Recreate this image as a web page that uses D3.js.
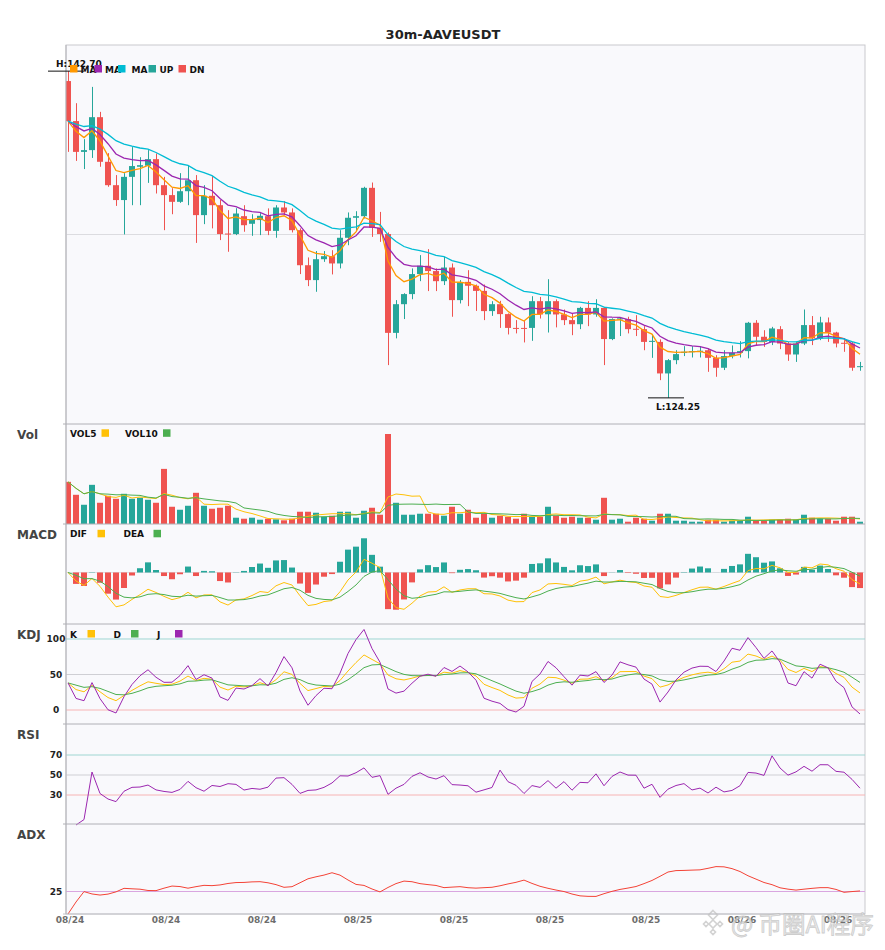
<!DOCTYPE html>
<html>
<head>
<meta charset="utf-8">
<script src="https://cdn.jsdelivr.net/npm/d3@7"></script>
<style>
  body { margin: 0; background: #fff; }
  svg { display: block; font-family: "DejaVu Sans", sans-serif; }
</style>
</head>
<body>
<div id="chart"></div>
<script>
// 30m AAVEUSDT candles
const opens = [
  142.14, 139.88, 138.14, 138.24, 140.10, 137.58, 136.26, 135.42, 136.73, 137.30,
  137.36, 137.73, 136.26, 135.70, 135.32, 135.92, 136.54, 134.57, 135.66, 135.13,
  133.53, 133.50, 134.51, 134.08, 134.29, 134.51, 133.68, 135.00, 134.72, 133.72,
  131.74, 130.90, 132.08, 132.25, 131.84, 133.29, 134.42, 134.51, 136.11, 133.85,
  133.50, 127.92, 129.54, 130.11, 131.24, 131.71, 131.41, 130.84, 131.61, 129.77,
  130.80, 130.58, 130.29, 129.15, 129.54, 128.98, 128.20, 128.20, 128.20, 129.71,
  128.97, 129.71, 128.96, 128.64, 128.41, 129.33, 128.96, 129.33, 127.57, 128.68,
  128.70, 128.15, 128.13, 127.41, 127.41, 125.63, 126.38, 126.79, 126.83, 126.85,
  126.94, 126.51, 125.95, 126.61, 126.79, 126.89, 128.49, 127.70, 127.41, 128.13,
  127.32, 126.70, 127.32, 128.36, 127.61, 128.51, 127.94, 127.36, 127.32, 125.99
];
const highs = [
  142.70, 140.89, 138.86, 141.81, 140.40, 138.07, 136.83, 136.94, 138.41, 137.84,
  138.24, 138.05, 136.73, 136.09, 136.94, 137.39, 136.83, 136.26, 136.77, 135.42,
  134.85, 134.96, 135.13, 134.62, 134.68, 134.95, 135.13, 135.36, 134.95, 133.82,
  132.18, 132.54, 132.54, 132.59, 133.72, 134.72, 134.79, 136.17, 136.41, 134.75,
  133.59, 129.77, 130.16, 131.56, 132.31, 132.65, 131.56, 132.21, 131.84, 130.90,
  131.46, 130.65, 130.65, 129.71, 129.73, 129.02, 128.64, 128.64, 129.99, 129.95,
  130.95, 129.81, 129.24, 129.02, 129.39, 129.71, 129.82, 129.39, 128.74, 128.77,
  128.83, 128.92, 128.30, 127.83, 127.55, 126.44, 126.94, 127.17, 127.17, 127.17,
  127.04, 126.66, 126.94, 127.21, 127.45, 128.54, 128.64, 128.07, 128.26, 128.30,
  127.41, 127.41, 129.24, 128.87, 128.83, 128.79, 127.98, 127.51, 127.41, 126.28
];
const lows = [
  138.14, 137.63, 137.17, 137.80, 137.30, 136.17, 135.09, 133.48, 135.13, 135.13,
  136.39, 135.79, 133.72, 134.62, 135.26, 135.13, 133.00, 134.06, 133.82, 133.16,
  132.50, 133.44, 133.63, 133.40, 133.44, 133.44, 133.29, 134.57, 133.59, 131.24,
  130.56, 130.24, 131.93, 131.22, 131.56, 132.87, 133.72, 134.38, 133.34, 133.06,
  126.10, 127.61, 128.70, 129.82, 130.84, 130.28, 130.28, 130.62, 128.83, 129.58,
  129.43, 129.16, 128.64, 128.88, 128.20, 127.83, 127.89, 127.38, 127.47, 128.73,
  127.94, 128.23, 128.36, 127.79, 128.13, 128.30, 128.83, 126.10, 127.51, 127.74,
  127.89, 127.74, 126.94, 126.51, 125.25, 124.25, 126.15, 126.61, 126.53, 126.53,
  125.72, 125.44, 125.82, 126.48, 126.53, 126.48, 127.23, 127.13, 127.23, 127.00,
  126.34, 126.28, 127.23, 127.23, 127.51, 127.41, 127.10, 126.85, 125.78, 125.78
];
const closes = [
  139.88, 138.14, 138.24, 140.10, 137.58, 136.26, 135.42, 136.73, 137.34, 137.39,
  137.73, 136.26, 135.70, 135.32, 135.92, 136.54, 134.57, 135.66, 135.13, 133.50,
  133.48, 134.66, 134.00, 134.33, 134.53, 133.68, 135.00, 134.72, 133.72, 131.74,
  130.90, 132.08, 132.25, 131.84, 133.29, 134.42, 134.51, 136.11, 133.85, 133.50,
  127.92, 129.54, 130.11, 131.24, 131.71, 131.41, 130.84, 131.61, 129.77, 130.77,
  130.58, 130.29, 129.15, 129.54, 128.98, 128.20, 128.15, 128.15, 129.71, 128.96,
  129.71, 128.96, 128.64, 128.41, 129.33, 128.96, 129.33, 127.57, 128.70, 128.74,
  128.13, 128.11, 127.41, 127.47, 125.63, 126.38, 126.72, 126.85, 126.89, 126.91,
  126.51, 125.95, 126.61, 126.79, 126.89, 128.49, 127.70, 127.41, 128.17, 127.32,
  126.70, 127.32, 128.36, 127.61, 128.51, 127.94, 127.32, 127.32, 125.95, 126.04
];
const volumes = [
  5076, 3516, 2316, 4716, 2556, 3396, 3036, 3636, 3036, 3156,
  2916, 2556, 6636, 2076, 1716, 2196, 3756, 2196, 1836, 1956,
  2196, 756, 636, 756, 516, 636, 564, 444, 636, 1476,
  1476, 1356, 876, 996, 1476, 1476, 756, 1596, 1956, 1116,
  10836, 2556, 1116, 1116, 1236, 1236, 1236, 996, 2076, 1236,
  1716, 756, 1236, 756, 996, 876, 636, 1236, 876, 876,
  2076, 996, 756, 876, 756, 756, 516, 3156, 516, 636,
  276, 756, 636, 396, 1236, 1236, 396, 396, 276, 276,
  516, 516, 276, 396, 396, 876, 396, 396, 516, 516,
  636, 516, 1116, 756, 636, 636, 396, 876, 876, 276
];
const tickIndex = [0, 12, 24, 36, 48, 60, 72, 84, 96];
const tickLabels = ["08/24", "08/24", "08/24", "08/25", "08/25", "08/25", "08/25", "08/26", "08/26"];

const UP = "#26a69a", DN = "#ef5350";
const n = closes.length;
const idx = d3.range(n);

// ---- indicators derived from the candles ----
function ema(src, p) {
  const k = 2 / (p + 1), out = [src[0]];
  for (let i = 1; i < src.length; i++) out.push(out[i - 1] + (src[i] - out[i - 1]) * k);
  return out;
}
function sma(src, p) {
  return src.map((_, i) => d3.mean(src.slice(Math.max(0, i - p + 1), i + 1)));
}
const ma5 = ema(closes, 5), ma10 = ema(closes, 10), ma20 = ema(closes, 20);
const vol5 = sma(volumes, 5), vol10 = sma(volumes, 10);

// MACD 6/13/5
const eFast = ema(closes, 6), eSlow = ema(closes, 13);
const dif = eFast.map((v, i) => v - eSlow[i]);
const dea = ema(dif, 5);
const hist = dif.map((v, i) => 2 * (v - dea[i]));

// KDJ 9/3/3
const kk = [], dd = [], jj = [];
idx.forEach((i) => {
  const lo = d3.min(lows.slice(Math.max(0, i - 8), i + 1));
  const hi = d3.max(highs.slice(Math.max(0, i - 8), i + 1));
  const rsv = hi === lo ? 50 : ((closes[i] - lo) / (hi - lo)) * 100;
  const k = i === 0 ? rsv : (2 / 3) * kk[i - 1] + rsv / 3;
  const d = i === 0 ? rsv : (2 / 3) * dd[i - 1] + k / 3;
  kk.push(k); dd.push(d); jj.push(3 * k - 2 * d);
});

// RSI 14, plain sums over the window
const rsi = idx.map((i) => {
  if (i === 0) return null;
  let g = 0, l = 0;
  for (let j = Math.max(1, i - 13); j <= i; j++) {
    const ch = closes[j] - closes[j - 1];
    if (ch > 0) g += ch; else l -= ch;
  }
  return g + l === 0 ? 50 : (100 * g) / (g + l);
});

// ADX 14
const adx = [0];
{
  const a = 2 / 15;
  let tr = 0, pdm = 0, mdm = 0;
  for (let i = 1; i < n; i++) {
    const t = Math.max(highs[i] - lows[i], Math.abs(highs[i] - closes[i - 1]), Math.abs(lows[i] - closes[i - 1]));
    const up = highs[i] - highs[i - 1], dn = lows[i - 1] - lows[i];
    const p = up > dn && up > 0 ? up : 0, m = dn > up && dn > 0 ? dn : 0;
    const s = i === 1 ? 1 : a;
    tr += (t - tr) * s; pdm += (p - pdm) * s; mdm += (m - mdm) * s;
    const pdi = (100 * pdm) / tr, mdi = (100 * mdm) / tr;
    const dx = pdi + mdi === 0 ? 0 : (100 * Math.abs(pdi - mdi)) / (pdi + mdi);
    adx.push(adx[i - 1] + (dx - adx[i - 1]) * a);
  }
}

// ---- layout ----
const width = 885, height = 950;
const plotL = 66, plotR = 865;
const P = {
  price: [45, 424], vol: [424, 524], macd: [524, 624],
  kdj: [624, 724], rsi: [724, 824], adx: [824, 914]
};

const svg = d3.select("#chart").append("svg")
  .attr("width", width).attr("height", height)
  .attr("viewBox", [0, 0, width, height]);

svg.append("text")
  .attr("x", 443).attr("y", 39)
  .attr("text-anchor", "middle")
  .style("font-size", "13px").style("font-weight", "bold").style("fill", "#222")
  .text("30m-AAVEUSDT");

svg.append("rect")
  .attr("x", plotL).attr("y", P.price[0])
  .attr("width", plotR - plotL).attr("height", P.adx[1] - P.price[0])
  .attr("fill", "#f9f9fc").attr("stroke", "#c9c9ce");

svg.append("defs").append("clipPath").attr("id", "plot")
  .append("rect").attr("x", plotL).attr("y", P.price[0])
  .attr("width", plotR - plotL).attr("height", P.adx[1] - P.price[0]);

const x = d3.scaleBand().domain(idx).range([64, 864]).paddingInner(0.25).paddingOuter(0.125);
const cx = (i) => x(i) + x.bandwidth() / 2;

const lo = d3.min(lows), hi = d3.max(highs), pad = (hi - lo) * 0.08;
const yPrice = d3.scaleLinear().domain([lo - pad, hi + pad]).range([P.price[1], P.price[0]]);
const yVol = d3.scaleLinear().domain([0, d3.max(volumes) / 0.9]).range([P.vol[1], P.vol[0]]);
const mExt = d3.extent([...dif, ...dea, ...hist]);
const mPad = (mExt[1] - mExt[0]) * 0.2;
const yMacd = d3.scaleLinear().domain([mExt[0] - mPad, mExt[1] + mPad]).range([P.macd[1], P.macd[0]]);
const yKdj = d3.scaleLinear().domain([-19.7, 121.1]).range([P.kdj[1], P.kdj[0]]);
const yRsi = d3.scaleLinear().domain([0, 100]).range([825, 725]);
const yAdx = d3.scaleLinear().domain([0, 100]).range([P.adx[1], P.adx[0]]);

const plot = svg.append("g").attr("clip-path", "url(#plot)");

function hline(y, color) {
  plot.append("line").attr("x1", plotL).attr("x2", plotR)
    .attr("y1", y).attr("y2", y).attr("stroke", color).attr("stroke-width", 1);
}
function drawLine(values, y, color, w) {
  plot.append("path").datum(idx)
    .attr("fill", "none").attr("stroke", color).attr("stroke-width", w || 1)
    .attr("d", d3.line().defined((i) => values[i] != null).x(cx).y((i) => y(values[i])));
}

// gridlines
hline(yPrice(yPrice.domain()[0] / 2 + yPrice.domain()[1] / 2), "#dcdce0");
hline(yMacd(0), "#dedee2");
hline(yKdj(100), "#9fd6d2"); hline(yKdj(50), "#cfcfd4"); hline(yKdj(0), "#f7b4b4");
hline(yRsi(70), "#9fd6d2"); hline(yRsi(50), "#cfcfd4"); hline(yRsi(30), "#f7b4b4");
hline(yAdx(25), "#d9a6e0");

// candles
const candle = plot.append("g").selectAll("g").data(idx).join("g");
candle.append("line")
  .attr("x1", (i) => cx(i) + 0.5).attr("x2", (i) => cx(i) + 0.5)
  .attr("y1", (i) => yPrice(highs[i])).attr("y2", (i) => yPrice(lows[i]))
  .attr("stroke", (i) => (closes[i] >= opens[i] ? UP : DN));
candle.append("rect")
  .attr("x", (i) => x(i)).attr("width", x.bandwidth())
  .attr("y", (i) => yPrice(Math.max(opens[i], closes[i])))
  .attr("height", (i) => Math.max(1, Math.abs(yPrice(opens[i]) - yPrice(closes[i]))))
  .attr("fill", (i) => (closes[i] >= opens[i] ? UP : DN));

drawLine(ma5, yPrice, "#ff9800", 1.3);
drawLine(ma10, yPrice, "#9c27b0", 1.3);
drawLine(ma20, yPrice, "#00bcd4", 1.3);

// volume
plot.append("g").selectAll("rect").data(idx).join("rect")
  .attr("x", (i) => x(i)).attr("width", x.bandwidth())
  .attr("y", (i) => yVol(volumes[i])).attr("height", (i) => yVol(0) - yVol(volumes[i]))
  .attr("fill", (i) => (closes[i] >= opens[i] ? UP : DN));
drawLine(vol5, yVol, "#ffc107");
drawLine(vol10, yVol, "#4caf50");

// macd
plot.append("g").selectAll("rect").data(idx).join("rect")
  .attr("x", (i) => x(i)).attr("width", x.bandwidth())
  .attr("y", (i) => yMacd(Math.max(0, hist[i])))
  .attr("height", (i) => Math.abs(yMacd(hist[i]) - yMacd(0)))
  .attr("fill", (i) => (hist[i] >= 0 ? UP : DN));
drawLine(dif, yMacd, "#ffc107");
drawLine(dea, yMacd, "#4caf50");

// kdj, rsi, adx
drawLine(kk, yKdj, "#ffc107");
drawLine(dd, yKdj, "#4caf50");
drawLine(jj, yKdj, "#9c27b0");
drawLine(rsi, yRsi, "#9c27b0");
drawLine(adx, yAdx, "#f44336");

// panel frame lines
svg.append("line").attr("x1", plotL).attr("x2", plotL)
  .attr("y1", P.price[0]).attr("y2", P.adx[1]).attr("stroke", "#b4b4b9");
[P.vol[0], P.macd[0], P.kdj[0], P.rsi[0], P.adx[0]].forEach((y) => {
  svg.append("line").attr("x1", plotL - 3).attr("x2", plotR)
    .attr("y1", y).attr("y2", y).attr("stroke", "#b0b0b6");
});
svg.append("line").attr("x1", plotL - 3).attr("x2", plotR)
  .attr("y1", P.adx[1]).attr("y2", P.adx[1]).attr("stroke", "#c2c2c8");

// panel titles
[["Vol", P.vol], ["MACD", P.macd], ["KDJ", P.kdj], ["RSI", P.rsi], ["ADX", P.adx]].forEach(([t, p]) => {
  svg.append("text").attr("x", 17).attr("y", p[0] + 15)
    .style("font-size", "12px").style("font-weight", "bold").style("fill", "#444")
    .text(t);
});

// level ticks
function levelAxis(scale, values) {
  const g = svg.append("g").attr("transform", `translate(${plotL},0)`)
    .call(d3.axisLeft(scale).tickValues(values).tickSize(0).tickFormat(d3.format("d")));
  g.select(".domain").remove();
  g.selectAll("text").attr("x", -10).attr("text-anchor", "middle")
    .style("font-size", "9px").style("font-weight", "bold").style("fill", "#222")
    .style("font-family", "DejaVu Sans");
}
levelAxis(yKdj, [0, 50, 100]);
levelAxis(yRsi, [30, 50, 70]);
levelAxis(yAdx, [25]);

// x axis
const xAxis = svg.append("g").attr("transform", `translate(2,${P.adx[1]})`)
  .call(d3.axisBottom(x).tickValues(tickIndex).tickSize(0).tickPadding(3)
    .tickFormat((d) => tickLabels[tickIndex.indexOf(d)]));
xAxis.select(".domain").remove();
xAxis.selectAll("text").style("font-size", "9px").style("font-weight", "bold")
  .style("fill", "#6d6d6d").style("font-family", "DejaVu Sans");

// high / low markers
const iHi = highs.indexOf(hi), iLo = lows.indexOf(lo);
const mark = svg.append("g").style("font-size", "9px").style("font-weight", "bold").style("fill", "#111");
mark.append("line").attr("x1", cx(iHi) - 20).attr("x2", cx(iHi) + 16)
  .attr("y1", yPrice(hi)).attr("y2", yPrice(hi)).attr("stroke", "#111");
mark.append("text").attr("x", cx(iHi) - 12).attr("y", yPrice(hi) - 4).text("H:" + hi.toFixed(2));
mark.append("line").attr("x1", cx(iLo) - 20).attr("x2", cx(iLo) + 16)
  .attr("y1", yPrice(lo)).attr("y2", yPrice(lo)).attr("stroke", "#111");
mark.append("text").attr("x", cx(iLo) - 12).attr("y", yPrice(lo) + 12).text("L:" + lo.toFixed(2));

// legends
function legend(items, boxY, textY) {
  const g = svg.append("g").style("font-size", "9px").style("font-weight", "bold").style("fill", "#111");
  items.forEach((it) => {
    g.append("text").attr("x", it.tx).attr("y", textY).text(it.label);
    g.append("rect").attr("x", it.bx).attr("y", boxY).attr("width", 7.5).attr("height", 7.5)
      .attr("fill", it.color);
  });
}
legend([
  { label: "MA", color: "#ff9800", bx: 70, tx: 80.5 },
  { label: "MA", color: "#9c27b0", bx: 94.5, tx: 105 },
  { label: "MA", color: "#00bcd4", bx: 118, tx: 131.5 },
  { label: "UP", color: UP, bx: 148.5, tx: 159.5 },
  { label: "DN", color: DN, bx: 178.5, tx: 189.5 }
], 65, 72.5);
legend([
  { label: "VOL5", color: "#ffc107", bx: 101.5, tx: 70 },
  { label: "VOL10", color: "#4caf50", bx: 163, tx: 125 }
], 429.3, 437);
legend([
  { label: "DIF", color: "#ffc107", bx: 97.5, tx: 70 },
  { label: "DEA", color: "#4caf50", bx: 153.5, tx: 123.5 }
], 529.8, 537.3);
legend([
  { label: "K", color: "#ffc107", bx: 87.5, tx: 70 },
  { label: "D", color: "#4caf50", bx: 131, tx: 113.5 },
  { label: "J", color: "#9c27b0", bx: 175, tx: 157 }
], 630, 637.5);

// watermark
const wm = svg.append("g").attr("opacity", 0.75);
wm.append("g").attr("transform", "translate(713,924)")
  .selectAll("path").data([[0, -9, 4.5], [0, 0, 4], [-7, 0, 2.5], [7, 0, 2.5], [0, 8, 2.5]])
  .join("path")
  .attr("d", ([dx, dy, r]) => `M${dx},${dy - r}L${dx + r},${dy}L${dx},${dy + r}L${dx - r},${dy}Z`)
  .attr("fill", "none").attr("stroke", "#c4c4c4").attr("stroke-width", 1.6);
wm.append("text").attr("x", 731).attr("y", 933)
  .style("font-family", "'Noto Sans CJK SC', sans-serif").style("font-size", "23.5px")
  .attr("fill", "#e6e6e6").attr("stroke", "#bdbdbd").attr("stroke-width", 0.8)
  .text("@ 币圈AI程序");
</script>
</body>
</html>
